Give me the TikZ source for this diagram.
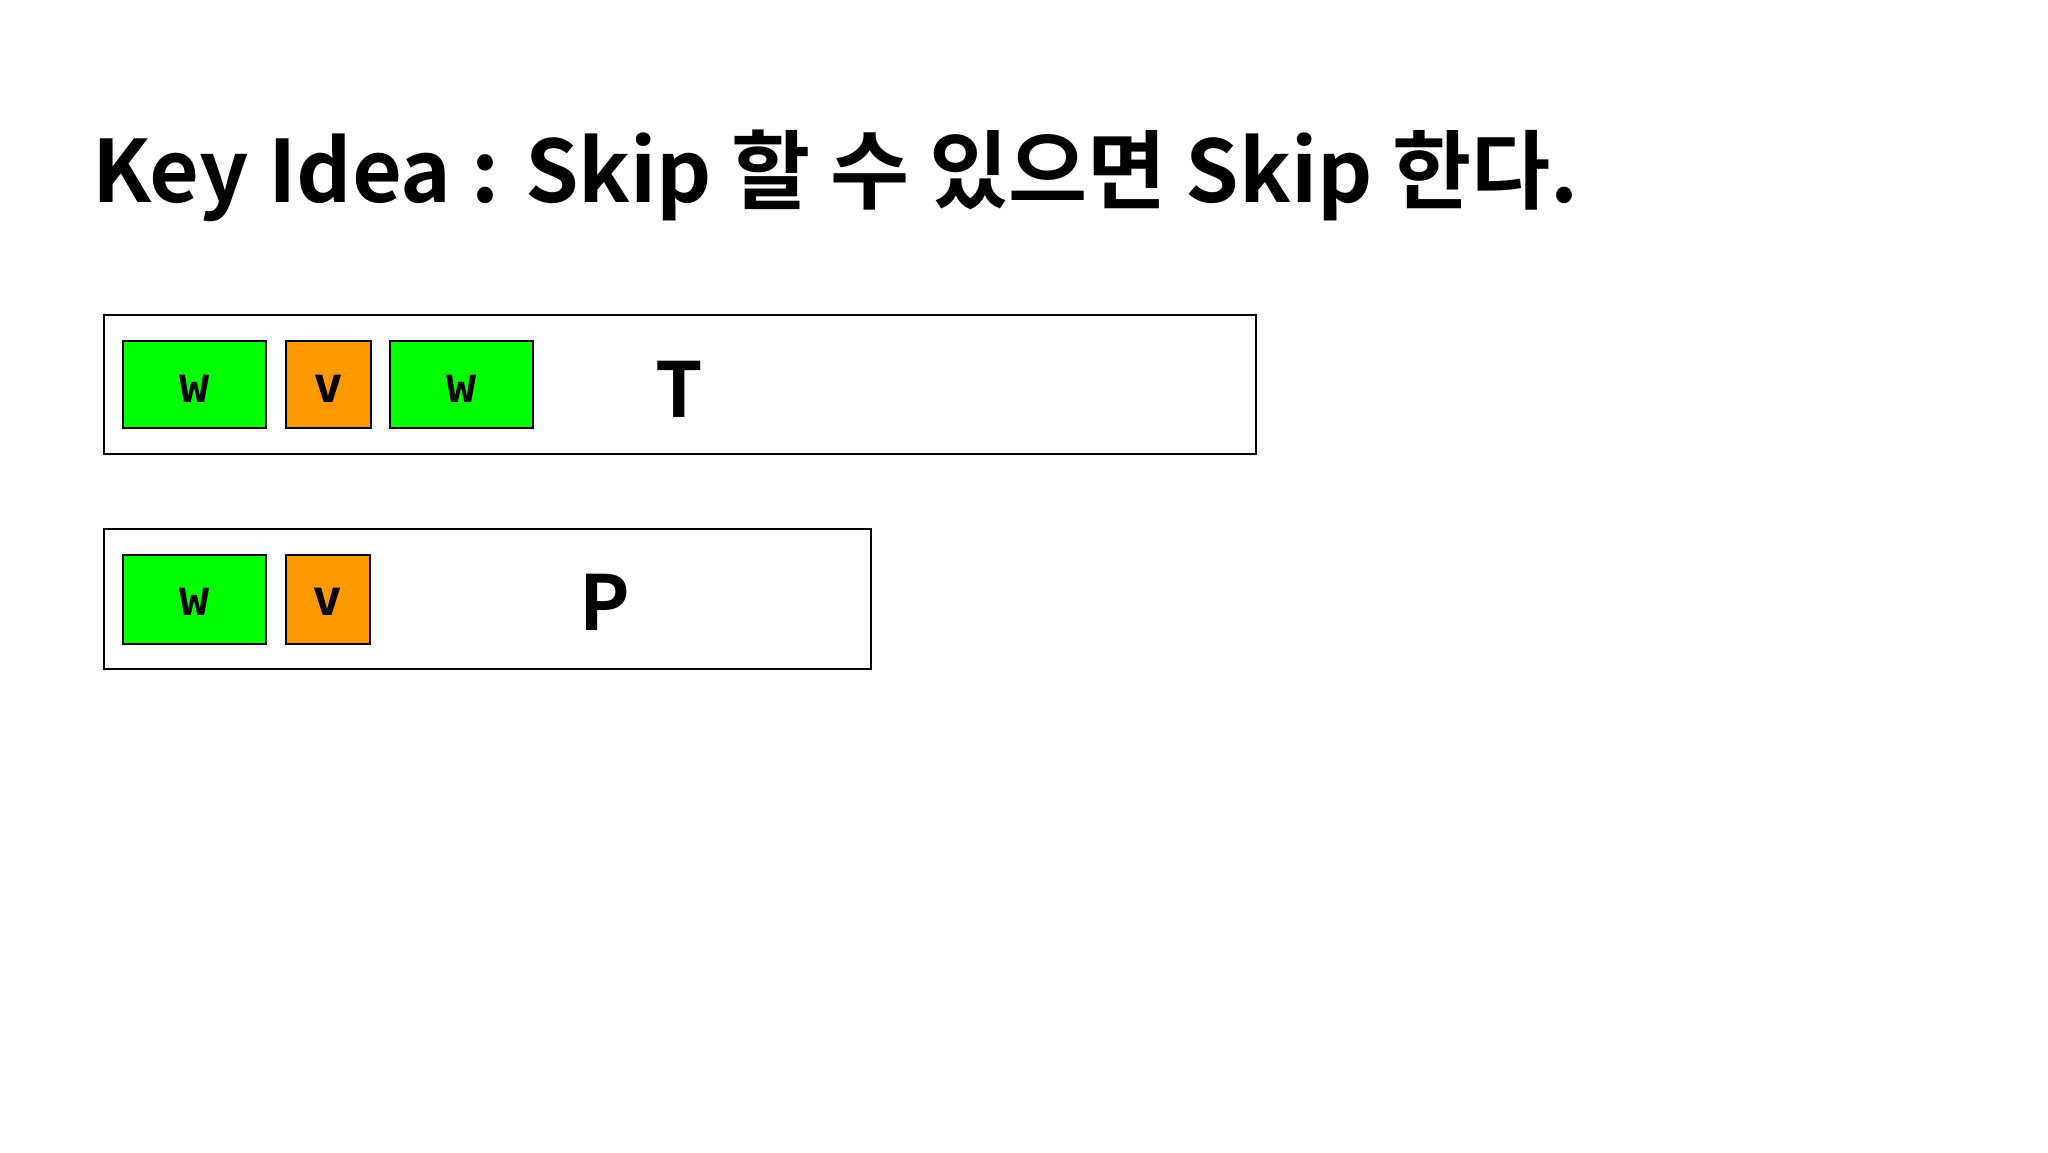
\documentclass[tikz,border=0pt]{standalone}
\usepackage{fontspec}
\setmainfont{Noto Sans CJK KR}[BoldFont={* Bold}]
\newfontfamily\titlefont{Noto Sans CJK KR Bold}
\newfontfamily\monofont{DejaVu Sans Mono Bold}
\definecolor{gbox}{HTML}{00FF00}
\definecolor{obox}{HTML}{FF9900}
\begin{document}
\begin{tikzpicture}[x=1pt,y=-1pt,
  frame/.style={draw=black, line width=1.6pt},
  cell/.style={draw=black, line width=1.6pt},
  celltxt/.style={font=\monofont\fontsize{50}{54}\selectfont, inner sep=0pt},
  bigtxt/.style={font=\titlefont\fontsize{76}{80}\selectfont, inner sep=0pt}]
\useasboundingbox (0,0) rectangle (2048,1152);
\fill[white] (0,0) rectangle (2048,1152);
\node[anchor=base west, inner sep=0pt, font=\titlefont\fontsize{86}{94}\selectfont] (title) at (92,202) {Key Idea : Skip 할 수 있으면 Skip 한다.};
% T row
\draw[frame] (104,315) rectangle (1256,454);
\draw[cell, fill=gbox] (123,341) rectangle (266,428);
\node[celltxt] (tw1) at (194.5,389) {w};
\draw[cell, fill=obox] (286,341) rectangle (371,428);
\node[celltxt] (tv) at (328.5,389) {v};
\draw[cell, fill=gbox] (390,341) rectangle (533,428);
\node[celltxt] (tw2) at (461.5,389) {w};
\node[bigtxt] (T) at (679,389) {T};
% P row
\draw[frame] (104,529) rectangle (871,669);
\draw[cell, fill=gbox] (123,555) rectangle (266,644);
\node[celltxt] (pw) at (194.5,602) {w};
\draw[cell, fill=obox] (286,555) rectangle (370,644);
\node[celltxt] (pv) at (328,602) {v};
\node[bigtxt] (P) at (605,602) {P};
\end{tikzpicture}
\end{document}
